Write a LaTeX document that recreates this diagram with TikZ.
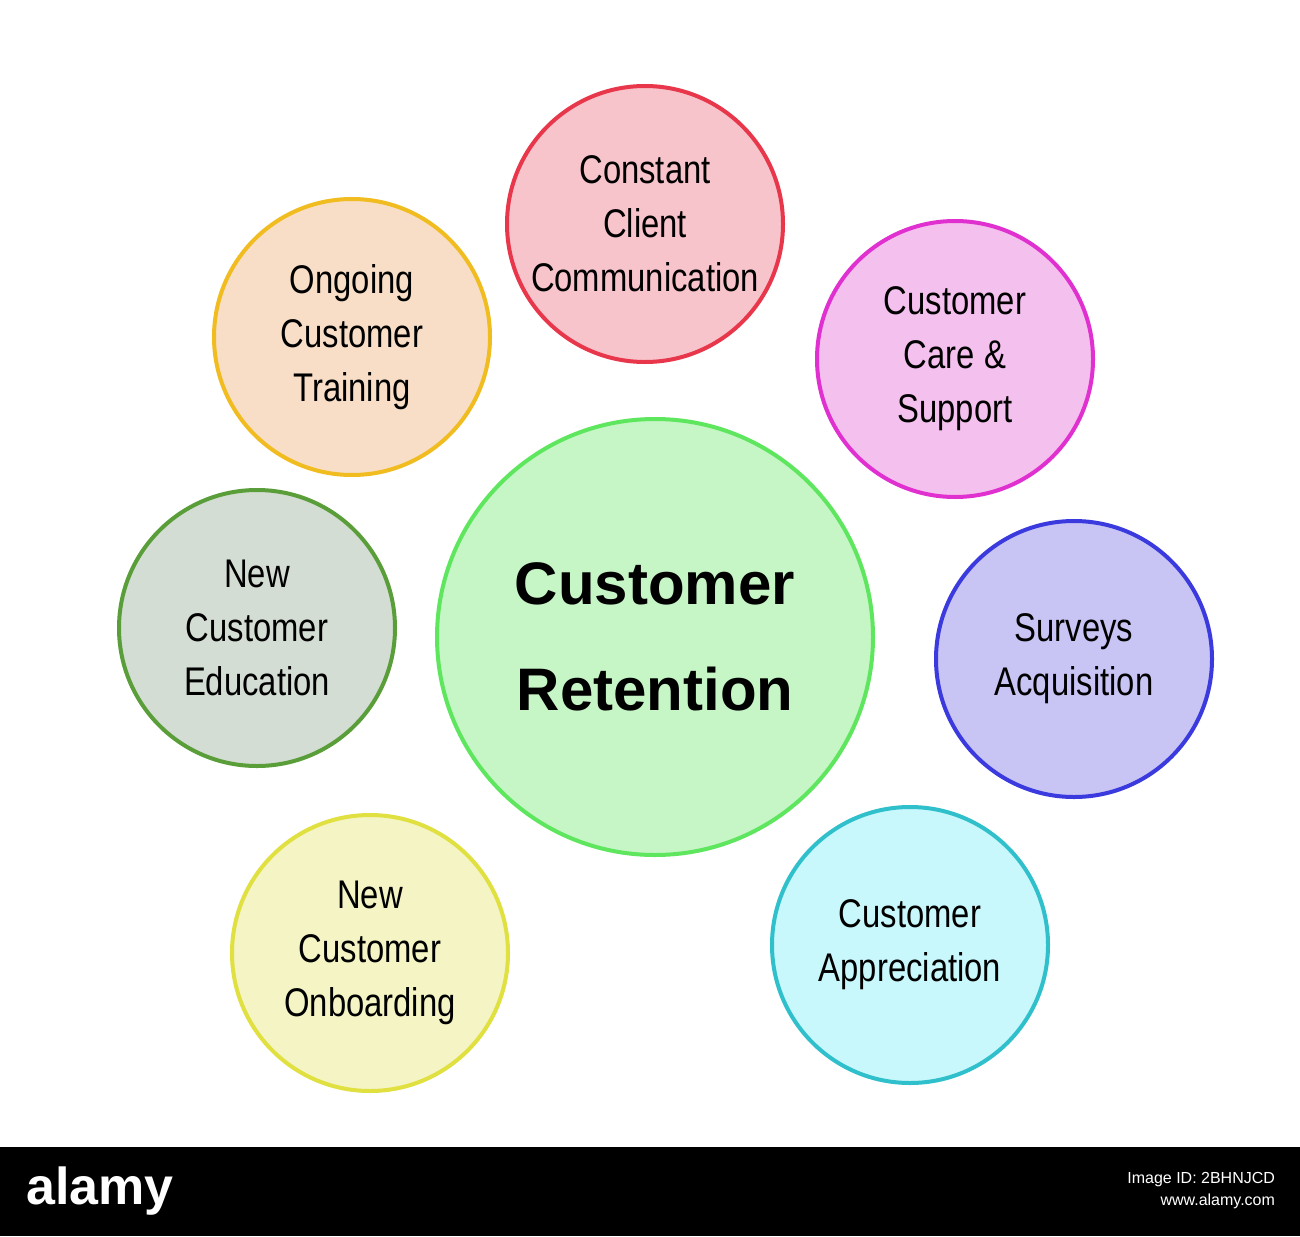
\documentclass[tikz,border=0pt]{standalone}
\usepackage{fontspec}
\setmainfont{Liberation Sans}[FakeStretch=0.82]
\newfontfamily\wide{Liberation Sans}
\begin{document}
\begin{tikzpicture}[x=0.5pt,y=-0.5pt,
  bub/.style={circle,line width=2pt,minimum size=276*0.5pt,inner sep=0pt,align=center,
    font=\fontsize{20}{27}\selectfont},
]
\useasboundingbox[fill=white] (0,0) rectangle (1300,1236);
\node[bub,fill=green!40!white!85!black!0,fill={rgb,255:red,198;green,245;blue,198},draw={rgb,255:red,94;green,230;blue,94},minimum size=436*0.5pt,font=\wide\bfseries\fontsize{30}{53}\selectfont] (c) at (655,637) {Customer\\Retention};
\node[bub,fill={rgb,255:red,248;green,196;blue,204},draw={rgb,255:red,232;green,54;blue,75}] (a) at (645,224) {Constant\\Client\\Communication};
\node[bub,fill={rgb,255:red,248;green,222;blue,198},draw={rgb,255:red,240;green,188;blue,32}] (b) at (352,337) {Ongoing\\Customer\\Training};
\node[bub,fill={rgb,255:red,244;green,192;blue,238},draw={rgb,255:red,224;green,48;blue,208}] (d) at (955,359) {Customer\\Care \&\\Support};
\node[bub,fill={rgb,255:red,212;green,221;blue,212},draw={rgb,255:red,90;green,158;blue,58}] (e) at (257,628) {New\\Customer\\Education};
\node[bub,fill={rgb,255:red,200;green,196;blue,244},draw={rgb,255:red,58;green,58;blue,222}] (f) at (1074,659) {Surveys\\Acquisition};
\node[bub,fill={rgb,255:red,244;green,244;blue,196},draw={rgb,255:red,224;green,224;blue,64}] (g) at (370,953) {New\\Customer\\Onboarding};
\node[bub,fill={rgb,255:red,200;green,248;blue,252},draw={rgb,255:red,48;green,192;blue,204}] (h) at (910,945) {Customer\\Appreciation};
\fill[black] (0,1147) rectangle (1300,1236);
\node[text=white,font=\wide\bfseries\fontsize{26}{28}\selectfont] (logo) at (100,1191) {alamy};
\node[text=white,align=right,anchor=east,font=\wide\fontsize{8}{11}\selectfont] (id) at (1282,1191) {Image ID: 2BHNJCD\\www.alamy.com};
\end{tikzpicture}
\end{document}
